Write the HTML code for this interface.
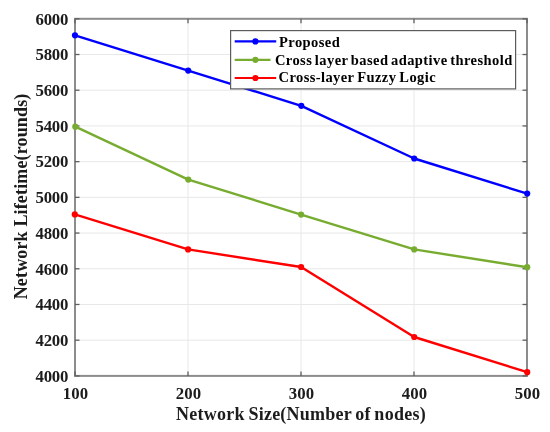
<!DOCTYPE html>
<html><head><meta charset="utf-8"><style>
html,body{margin:0;padding:0;background:#fff;}
svg{display:block;}
text{font-family:"Liberation Serif","Times New Roman",serif;font-weight:bold;fill:#1c1c1c;}
.tk{font-size:16.8px;letter-spacing:0.1px;}
.lb{font-size:18px;}
.lg{font-size:14.5px;letter-spacing:0.41px;word-spacing:-1px;fill:#000;}
</style></head><body>
<svg width="550" height="432" viewBox="0 0 550 432">
<rect width="550" height="432" fill="#fff"/>
<line x1="188" y1="18.8" x2="188" y2="375.9" stroke="#e8e8e8" stroke-width="1"/>
<line x1="301" y1="18.8" x2="301" y2="375.9" stroke="#e8e8e8" stroke-width="1"/>
<line x1="414" y1="18.8" x2="414" y2="375.9" stroke="#e8e8e8" stroke-width="1"/>
<line x1="75.0" y1="54.51" x2="527.0" y2="54.51" stroke="#e8e8e8" stroke-width="1"/>
<line x1="75.0" y1="90.22" x2="527.0" y2="90.22" stroke="#e8e8e8" stroke-width="1"/>
<line x1="75.0" y1="125.93" x2="527.0" y2="125.93" stroke="#e8e8e8" stroke-width="1"/>
<line x1="75.0" y1="161.64" x2="527.0" y2="161.64" stroke="#e8e8e8" stroke-width="1"/>
<line x1="75.0" y1="197.35" x2="527.0" y2="197.35" stroke="#e8e8e8" stroke-width="1"/>
<line x1="75.0" y1="233.06" x2="527.0" y2="233.06" stroke="#e8e8e8" stroke-width="1"/>
<line x1="75.0" y1="268.77" x2="527.0" y2="268.77" stroke="#e8e8e8" stroke-width="1"/>
<line x1="75.0" y1="304.48" x2="527.0" y2="304.48" stroke="#e8e8e8" stroke-width="1"/>
<line x1="75.0" y1="340.19" x2="527.0" y2="340.19" stroke="#e8e8e8" stroke-width="1"/>
<rect x="75.0" y="18.8" width="452.0" height="357.09999999999997" fill="none" stroke="#8c8c8c" stroke-width="2"/>
<line x1="75" y1="375.9" x2="75" y2="371.4" stroke="#606060" stroke-width="1.3"/>
<line x1="75" y1="18.8" x2="75" y2="23.3" stroke="#606060" stroke-width="1.3"/>
<line x1="188" y1="375.9" x2="188" y2="371.4" stroke="#606060" stroke-width="1.3"/>
<line x1="188" y1="18.8" x2="188" y2="23.3" stroke="#606060" stroke-width="1.3"/>
<line x1="301" y1="375.9" x2="301" y2="371.4" stroke="#606060" stroke-width="1.3"/>
<line x1="301" y1="18.8" x2="301" y2="23.3" stroke="#606060" stroke-width="1.3"/>
<line x1="414" y1="375.9" x2="414" y2="371.4" stroke="#606060" stroke-width="1.3"/>
<line x1="414" y1="18.8" x2="414" y2="23.3" stroke="#606060" stroke-width="1.3"/>
<line x1="527" y1="375.9" x2="527" y2="371.4" stroke="#606060" stroke-width="1.3"/>
<line x1="527" y1="18.8" x2="527" y2="23.3" stroke="#606060" stroke-width="1.3"/>
<line x1="75.0" y1="18.80" x2="79.5" y2="18.80" stroke="#606060" stroke-width="1.3"/>
<line x1="527.0" y1="18.80" x2="522.5" y2="18.80" stroke="#606060" stroke-width="1.3"/>
<line x1="75.0" y1="54.51" x2="79.5" y2="54.51" stroke="#606060" stroke-width="1.3"/>
<line x1="527.0" y1="54.51" x2="522.5" y2="54.51" stroke="#606060" stroke-width="1.3"/>
<line x1="75.0" y1="90.22" x2="79.5" y2="90.22" stroke="#606060" stroke-width="1.3"/>
<line x1="527.0" y1="90.22" x2="522.5" y2="90.22" stroke="#606060" stroke-width="1.3"/>
<line x1="75.0" y1="125.93" x2="79.5" y2="125.93" stroke="#606060" stroke-width="1.3"/>
<line x1="527.0" y1="125.93" x2="522.5" y2="125.93" stroke="#606060" stroke-width="1.3"/>
<line x1="75.0" y1="161.64" x2="79.5" y2="161.64" stroke="#606060" stroke-width="1.3"/>
<line x1="527.0" y1="161.64" x2="522.5" y2="161.64" stroke="#606060" stroke-width="1.3"/>
<line x1="75.0" y1="197.35" x2="79.5" y2="197.35" stroke="#606060" stroke-width="1.3"/>
<line x1="527.0" y1="197.35" x2="522.5" y2="197.35" stroke="#606060" stroke-width="1.3"/>
<line x1="75.0" y1="233.06" x2="79.5" y2="233.06" stroke="#606060" stroke-width="1.3"/>
<line x1="527.0" y1="233.06" x2="522.5" y2="233.06" stroke="#606060" stroke-width="1.3"/>
<line x1="75.0" y1="268.77" x2="79.5" y2="268.77" stroke="#606060" stroke-width="1.3"/>
<line x1="527.0" y1="268.77" x2="522.5" y2="268.77" stroke="#606060" stroke-width="1.3"/>
<line x1="75.0" y1="304.48" x2="79.5" y2="304.48" stroke="#606060" stroke-width="1.3"/>
<line x1="527.0" y1="304.48" x2="522.5" y2="304.48" stroke="#606060" stroke-width="1.3"/>
<line x1="75.0" y1="340.19" x2="79.5" y2="340.19" stroke="#606060" stroke-width="1.3"/>
<line x1="527.0" y1="340.19" x2="522.5" y2="340.19" stroke="#606060" stroke-width="1.3"/>
<line x1="75.0" y1="375.90" x2="79.5" y2="375.90" stroke="#606060" stroke-width="1.3"/>
<line x1="527.0" y1="375.90" x2="522.5" y2="375.90" stroke="#606060" stroke-width="1.3"/>
<path d="M75,35.3 L188.2,70.6 L301.3,105.8 L414.2,158.5 L527.2,193.6" fill="none" stroke="#0000ff" stroke-width="2.4" stroke-linejoin="round"/><circle cx="75" cy="35.3" r="3.1" fill="#0000ff"/><circle cx="188.2" cy="70.6" r="3.1" fill="#0000ff"/><circle cx="301.3" cy="105.8" r="3.1" fill="#0000ff"/><circle cx="414.2" cy="158.5" r="3.1" fill="#0000ff"/><circle cx="527.2" cy="193.6" r="3.1" fill="#0000ff"/>
<path d="M75.3,126.7 L188.3,179.6 L301.1,214.6 L414.2,249.4 L527.2,267.2" fill="none" stroke="#77ac30" stroke-width="2.4" stroke-linejoin="round"/><circle cx="75.3" cy="126.7" r="3.1" fill="#77ac30"/><circle cx="188.3" cy="179.6" r="3.1" fill="#77ac30"/><circle cx="301.1" cy="214.6" r="3.1" fill="#77ac30"/><circle cx="414.2" cy="249.4" r="3.1" fill="#77ac30"/><circle cx="527.2" cy="267.2" r="3.1" fill="#77ac30"/>
<path d="M74.8,214.4 L188.1,249.4 L301.1,267.0 L414.2,337.0 L527.2,372.2" fill="none" stroke="#ff0000" stroke-width="2.4" stroke-linejoin="round"/><circle cx="74.8" cy="214.4" r="3.1" fill="#ff0000"/><circle cx="188.1" cy="249.4" r="3.1" fill="#ff0000"/><circle cx="301.1" cy="267.0" r="3.1" fill="#ff0000"/><circle cx="414.2" cy="337.0" r="3.1" fill="#ff0000"/><circle cx="527.2" cy="372.2" r="3.1" fill="#ff0000"/>
<rect x="230.6" y="30.6" width="285" height="58.3" fill="#fff" stroke="#5c5c5c" stroke-width="1.2"/>
<line x1="234.7" y1="41.4" x2="276.2" y2="41.4" stroke="#0000ff" stroke-width="2.2"/>
<circle cx="255.4" cy="41.4" r="3.1" fill="#0000ff"/>
<text x="279.1" y="47.1" class="lg">Proposed</text>
<line x1="234.7" y1="59.8" x2="270.5" y2="59.8" stroke="#77ac30" stroke-width="2.2"/>
<circle cx="255.4" cy="59.8" r="3.1" fill="#77ac30"/>
<text x="274.9" y="64.7" class="lg" style="letter-spacing:0.44px;word-spacing:-1.5px">Cross layer based adaptive threshold</text>
<line x1="234.7" y1="78.0" x2="276.2" y2="78.0" stroke="#ff0000" stroke-width="2.2"/>
<circle cx="255.4" cy="78.0" r="3.1" fill="#ff0000"/>
<text x="278.5" y="82.2" class="lg">Cross-layer Fuzzy Logic</text>
<text x="68.1" y="24.60" text-anchor="end" class="tk" style="letter-spacing:-0.25px">6000</text>
<text x="68.1" y="60.31" text-anchor="end" class="tk" style="letter-spacing:-0.25px">5800</text>
<text x="68.1" y="96.02" text-anchor="end" class="tk" style="letter-spacing:-0.25px">5600</text>
<text x="68.1" y="131.73" text-anchor="end" class="tk" style="letter-spacing:-0.25px">5400</text>
<text x="68.1" y="167.44" text-anchor="end" class="tk" style="letter-spacing:-0.25px">5200</text>
<text x="68.1" y="203.15" text-anchor="end" class="tk" style="letter-spacing:-0.25px">5000</text>
<text x="68.1" y="238.86" text-anchor="end" class="tk" style="letter-spacing:-0.25px">4800</text>
<text x="68.1" y="274.57" text-anchor="end" class="tk" style="letter-spacing:-0.25px">4600</text>
<text x="68.1" y="310.28" text-anchor="end" class="tk" style="letter-spacing:-0.25px">4400</text>
<text x="68.1" y="345.99" text-anchor="end" class="tk" style="letter-spacing:-0.25px">4200</text>
<text x="68.1" y="381.70" text-anchor="end" class="tk" style="letter-spacing:-0.25px">4000</text>
<text x="75.45" y="398.5" text-anchor="middle" class="tk">100</text>
<text x="188.45" y="398.5" text-anchor="middle" class="tk">200</text>
<text x="301.45" y="398.5" text-anchor="middle" class="tk">300</text>
<text x="414.45" y="398.5" text-anchor="middle" class="tk">400</text>
<text x="527.45" y="398.5" text-anchor="middle" class="tk">500</text>
<text x="301.0" y="420.1" text-anchor="middle" class="lb" style="letter-spacing:0.25px;word-spacing:-1.2px">Network Size(Number of nodes)</text>
<text transform="translate(27.0,196.4) rotate(-90)" x="0" y="0" text-anchor="middle" class="lb" style="letter-spacing:0.15px">Network Lifetime(rounds)</text>
</svg>
</body></html>
